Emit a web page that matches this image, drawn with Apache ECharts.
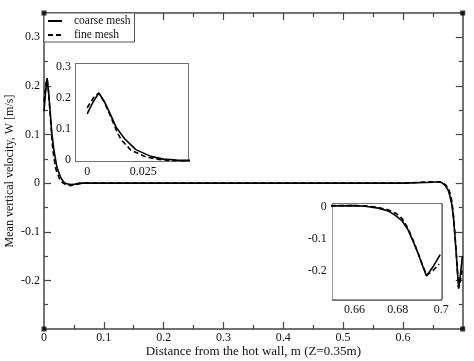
<!DOCTYPE html>
<html>
<head>
<meta charset="utf-8">
<script src="https://cdn.jsdelivr.net/npm/echarts@6/dist/echarts.min.js"></script>
<style>
html,body{margin:0;padding:0;background:#fff;}
#chart{width:474px;height:361px;}
</style>
</head>
<body>
<div id="chart"></div>
<script>
// ---- data (distance from hot wall [m], mean vertical velocity W [m/s]) ----
const coarseMesh = [
  [0, 0.148], [0.0025, 0.185], [0.0052, 0.216], [0.0075, 0.19], [0.0100, 0.152],
  [0.0129, 0.105], [0.0166, 0.068], [0.0217, 0.032], [0.0284, 0.010], [0.034, 0.001],
  [0.040, -0.002], [0.046, -0.003], [0.052, -0.002], [0.060, 0],
  [0.1, 0], [0.2, 0], [0.3, 0], [0.4, 0], [0.5, 0], [0.6, 0],
  [0.65, 0.002], [0.660, 0.003], [0.665, 0.001], [0.671, -0.005], [0.6755, -0.0135],
  [0.6785, -0.026], [0.682, -0.045], [0.6847, -0.073], [0.687, -0.108], [0.6893, -0.147],
  [0.6912, -0.182], [0.6932, -0.217], [0.6965, -0.185], [0.6995, -0.15]
];
const fineMesh = [
  [0, 0.168], [0.0032, 0.205], [0.0052, 0.215], [0.0075, 0.188], [0.0100, 0.148],
  [0.0136, 0.085], [0.0151, 0.065], [0.0195, 0.030], [0.0262, 0.008], [0.032, 0.0],
  [0.038, -0.004], [0.045, -0.005], [0.052, -0.003], [0.060, -0.001], [0.070, 0],
  [0.1, 0], [0.2, 0], [0.3, 0], [0.4, 0], [0.5, 0], [0.6, 0],
  [0.65, 0.003], [0.660, 0.003], [0.665, 0.002], [0.6678, 0.0], [0.671, -0.003],
  [0.6755, -0.010], [0.6793, -0.022], [0.682, -0.038], [0.6847, -0.068], [0.687, -0.105],
  [0.6893, -0.145], [0.6912, -0.18], [0.6932, -0.215], [0.6962, -0.2], [0.699, -0.18]
];
const seriesNames = ['coarse mesh', 'fine mesh'];

// main axes
const mainXRange = [0, 0.7];
const mainYRange = [-0.3, 0.35];
const mainXLabels = [0, 0.1, 0.2, 0.3, 0.4, 0.5, 0.6];
const mainXMajor = [0.1, 0.2, 0.3, 0.4, 0.5, 0.6];
const mainXMinor = [0.05, 0.15, 0.25, 0.35, 0.45, 0.55, 0.65];
const mainYLabels = [-0.2, -0.1, 0, 0.1, 0.2, 0.3];
const mainYMajor = [-0.2, -0.1, 0, 0.1, 0.2, 0.3];
const mainYMinor = [-0.25, -0.15, -0.05, 0.05, 0.15, 0.25];
// inset 1 (hot wall)
const in1XRange = [-0.005, 0.045];
const in1YRange = [-0.005, 0.31];
const in1XTicks = [0, 0.0125, 0.025, 0.0375];
const in1XLabels = [0, 0.025];
const in1YTicks = [0, 0.05, 0.1, 0.15, 0.2, 0.25, 0.3];
const in1YLabels = [0, 0.1, 0.2, 0.3];
// inset 2 (cold wall)
const in2XRange = [0.65, 0.70];
const in2YRange = [-0.29, 0.008];
const in2XTicks = [0.66, 0.67, 0.68, 0.69];
const in2XLabels = [0.66, 0.68, 0.7];
const in2YTicks = [-0.25, -0.2, -0.15, -0.1, -0.05, 0];
const in2YLabels = [-0.2, -0.1, 0];
// frame corner markers
const cornerPoints = [[0, 0.35], [0.7, 0.35], [0, -0.3], [0.7, -0.3]];

const FONT = 'Liberation Serif';
const FRAME = '#444';

function ax(grid, pos, range, ticks, labels, len, showLine, margin) {
  return {
    type: 'value', gridIndex: grid, position: pos, min: range[0], max: range[1],
    axisLine: {show: showLine, onZero: false, lineStyle: {color: FRAME, width: 1.5}},
    axisTick: {show: true, inside: true, length: len, customValues: ticks, lineStyle: {color: FRAME, width: 1.2}},
    axisLabel: labels ? {show: true, customValues: labels, margin: margin, fontFamily: FONT, fontSize: 12, color: '#111'} : {show: false},
    splitLine: {show: false},
    minorTick: {show: false}
  };
}

const xAxes = [
  Object.assign(ax(0, 'bottom', mainXRange, mainXMajor, mainXLabels, 7, true, 3), {
    name: 'Distance from the hot wall, m (Z=0.35m)', nameLocation: 'middle', nameGap: 16,
    nameMoveOverlap: false,
    nameTextStyle: {fontFamily: FONT, fontSize: 13, color: '#111'}
  }),
  ax(0, 'bottom', mainXRange, mainXMinor, null, 4, false),
  ax(0, 'top', mainXRange, mainXMajor, null, 7, true),
  ax(0, 'top', mainXRange, mainXMinor, null, 4, false),
  ax(1, 'bottom', in1XRange, in1XTicks, in1XLabels, 4, true, 5),
  ax(1, 'top', in1XRange, in1XTicks, null, 4, true),
  ax(2, 'bottom', in2XRange, in2XTicks, in2XLabels, 4, true, 5),
  ax(2, 'top', in2XRange, in2XTicks, null, 4, true)
];
const yAxes = [
  Object.assign(ax(0, 'left', mainYRange, mainYMajor, mainYLabels, 7, true, 4), {
    name: 'Mean vertical velocity, W [m/s]', nameLocation: 'middle', nameGap: 28,
    nameMoveOverlap: false,
    nameTextStyle: {fontFamily: FONT, fontSize: 12, color: '#111'}
  }),
  ax(0, 'left', mainYRange, mainYMinor, null, 4, false),
  ax(0, 'right', mainYRange, mainYMajor, null, 7, true),
  ax(0, 'right', mainYRange, mainYMinor, null, 4, false),
  ax(1, 'left', in1YRange, in1YTicks, in1YLabels, 4, true, 5),
  ax(1, 'right', in1YRange, in1YTicks, null, 4, true),
  ax(2, 'left', in2YRange, in2YTicks, in2YLabels, 4, true, 6),
  ax(2, 'right', in2YRange, in2YTicks, null, 4, true)
];

function line(name, data, xi, yi, dashed) {
  return {
    type: 'line', name: name, data: data, xAxisIndex: xi, yAxisIndex: yi,
    symbol: 'none', clip: true, smooth: false,
    lineStyle: {color: '#000', width: 1.6, type: dashed ? [5, 3] : 'solid'},
    itemStyle: {color: '#000'},
    z: 3
  };
}

const chart = echarts.init(document.getElementById('chart'), null, {renderer: 'canvas'});
chart.setOption({
  animation: false,
  backgroundColor: '#fff',
  grid: [
    {left: 44, top: 13, width: 418.7, height: 316, containLabel: false, outerBoundsMode: 'none'},
    {left: 76, top: 64, width: 112, height: 97, show: true, backgroundColor: '#fff', borderWidth: 0, z: 4, containLabel: false, outerBoundsMode: 'none'},
    {left: 332.7, top: 204, width: 108.6, height: 95.3, show: true, backgroundColor: '#fff', borderWidth: 0, z: 4, containLabel: false, outerBoundsMode: 'none'}
  ],
  legend: {
    data: seriesNames, left: 44, top: 13, orient: 'vertical',
    itemWidth: 14, itemHeight: 12, itemGap: 2,
    padding: [2, 4, 1, 3],
    backgroundColor: '#fff', borderColor: '#555', borderWidth: 1, borderRadius: 0,
    itemStyle: {color: 'rgba(0,0,0,0)', borderWidth: 0},
    textStyle: {fontFamily: FONT, fontSize: 11.5, color: '#111', padding: [0, 0, 0, 7]},
    selectedMode: false
  },
  xAxis: xAxes,
  yAxis: yAxes,
  series: [
    line(seriesNames[0], coarseMesh, 0, 0, false),
    line(seriesNames[1], fineMesh, 0, 0, true),
    Object.assign(line(seriesNames[0], coarseMesh, 4, 4, false), {z: 6}),
    Object.assign(line(seriesNames[1], fineMesh, 4, 4, true), {z: 6}),
    Object.assign(line(seriesNames[0], coarseMesh, 6, 6, false), {z: 6}),
    Object.assign(line(seriesNames[1], fineMesh, 6, 6, true), {z: 6}),
    {
      type: 'scatter', name: 'corners', data: cornerPoints, xAxisIndex: 0, yAxisIndex: 0,
      symbol: 'rect', symbolSize: 5, clip: false, silent: true,
      itemStyle: {color: '#000'}, z: 10
    }
  ]
});
</script>
</body>
</html>
